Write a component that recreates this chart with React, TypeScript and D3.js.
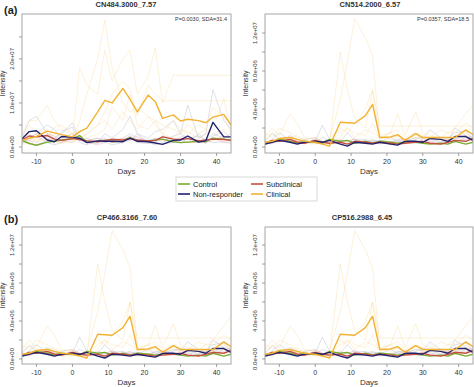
import * as d3 from 'd3';
import React from 'react';

// sampling days (x)
const days = [-14, -12, -10, -7, -5, -3, 0, 2, 4, 7, 9, 11, 14, 16, 18, 21, 23, 25, 28, 30, 32, 35, 37, 39, 42, 44];
const xTicks = [-10, 0, 10, 20, 30, 40];

// values are in millions (1e6)
const a1Clinical = [1.5, 2.0, 2.4, 3.6, 3.2, 2.8, 2.3, 3.5, 4.3, 8.0, 10.6, 10.0, 13.3, 10.8, 8.0, 11.8, 10.3, 6.5, 7.3, 5.9, 6.3, 6.0, 5.5, 6.8, 7.4, 5.0];
const a1NonResponder = [1.8, 3.5, 3.7, 1.6, 1.2, 2.4, 2.2, 2.0, 1.0, 1.4, 1.3, 1.3, 1.2, 2.0, 1.3, 1.2, 0.9, 0.6, 1.5, 1.6, 2.5, 1.1, 1.4, 5.6, 2.3, 2.3];
const a1Control = [1.5, 0.8, 0.4, 1.1, 1.3, 1.6, 1.9, 2.6, 1.1, 1.3, 1.5, 1.2, 1.4, 2.1, 1.5, 1.3, 1.6, 1.8, 1.2, 1.0, 1.1, 1.3, 1.2, 2.0, 1.8, 1.6];
const a1Subclinical = [1.6, 2.5, 2.3, 2.6, 1.8, 1.5, 1.9, 1.7, 1.4, 1.2, 1.5, 1.7, 1.6, 1.9, 1.6, 1.4, 1.5, 2.3, 1.8, 1.7, 1.9, 1.4, 1.6, 1.8, 1.7, 1.5];
const a1ClinicalAnimals = [
  [2.0, 5.0, 3.0, 4.0, 2.0, 1.0, 2.0, 6.0, 12.0, 20.0, 28.8, 18.0, 10.0, 8.0, 9.0, 7.0, 6.0, 5.0, 4.0, 3.0, 5.0, 3.0, 4.0, 3.0, 4.0, 3.0],
  [1.0, 2.0, 1.5, 2.5, 3.0, 2.0, 1.5, 18.0, 14.0, 12.0, 22.0, 15.0, 20.0, 22.0, 12.0, 16.0, 22.5, 10.0, 16.3, 16.3, 16.3, 16.3, 16.3, 16.3, 16.3, 16.3],
  [3.0, 6.0, 6.0, 9.5, 6.0, 4.0, 3.0, 2.0, 3.0, 5.0, 8.0, 12.0, 15.0, 13.0, 7.0, 14.0, 12.0, 10.5, 10.5, 10.5, 10.5, 10.5, 10.5, 10.5, 10.5, 10.5],
  [0.5, 1.0, 2.0, 1.5, 1.0, 0.8, 1.2, 2.0, 3.0, 5.0, 6.0, 4.0, 8.0, 6.0, 4.0, 7.0, 5.0, 3.0, 6.0, 4.0, 3.0, 5.0, 4.0, 9.0, 7.0, 3.0],
  [1.5, 3.0, 1.0, 2.0, 4.5, 5.0, 3.0, 4.0, 2.0, 3.0, 4.0, 9.0, 6.0, 12.0, 5.0, 4.0, 6.0, 3.0, 2.0, 4.0, 3.5, 2.0, 3.0, 4.0, 11.0, 4.0],
];
const a1OtherAnimals = [
  [2.0, 6.0, 7.0, 3.0, 2.0, 3.0, 5.5, 2.0, 1.5, 2.0, 1.0, 1.5, 2.0, 3.0, 2.0, 1.5, 2.0, 1.0, 2.5, 3.0, 9.5, 2.0, 3.0, 13.0, 6.0, 4.0],
  [1.0, 2.0, 3.0, 5.0, 4.0, 2.0, 3.0, 1.5, 2.0, 1.0, 3.0, 2.0, 4.0, 7.0, 3.0, 2.0, 3.5, 4.0, 6.0, 3.0, 2.0, 2.5, 1.5, 3.0, 2.0, 3.0],
  [1.5, 1.0, 0.5, 1.5, 2.0, 3.5, 4.5, 1.0, 0.5, 1.5, 2.0, 1.0, 1.5, 2.5, 1.0, 0.8, 1.2, 2.5, 1.5, 1.0, 2.0, 1.5, 0.8, 2.5, 3.5, 2.0],
  [0.8, 1.5, 2.5, 1.0, 0.5, 1.0, 2.0, 2.5, 1.0, 0.8, 1.2, 0.5, 1.0, 1.5, 3.0, 1.0, 0.5, 0.8, 1.0, 2.0, 1.0, 3.0, 1.5, 1.0, 1.2, 0.8],
];
const a1SubAnimals = [
  [1.0, 2.0, 3.0, 2.0, 1.5, 1.0, 2.5, 1.5, 1.0, 0.5, 1.0, 2.0, 1.5, 2.5, 1.0, 1.5, 1.0, 2.5, 2.0, 1.5, 1.0, 1.0, 1.5, 2.0, 1.0, 1.2],
  [2.0, 1.5, 1.0, 3.0, 2.5, 1.5, 1.0, 2.0, 1.5, 2.0, 1.5, 1.0, 2.0, 1.5, 2.5, 1.0, 2.0, 1.5, 1.0, 2.5, 2.0, 1.5, 1.0, 1.5, 2.5, 2.0],
];

const a2Clinical = [0.5, 0.6, 0.9, 1.0, 0.8, 0.6, 0.5, 0.3, 0.1, 2.6, 2.55, 2.5, 3.3, 4.5, 1.0, 1.05, 1.3, 0.7, 1.4, 1.0, 1.0, 1.0, 1.0, 1.0, 1.8, 1.3];
const a2NonResponder = [0.3, 0.5, 0.7, 0.5, 0.3, 0.5, 0.6, 0.5, 0.7, 0.3, 0.1, 0.5, 0.4, 0.3, 0.5, 0.3, 0.2, 0.6, 0.6, 0.5, 0.9, 0.8, 0.6, 1.1, 1.1, 0.7];
const a2Control = [0.3, 0.6, 0.8, 0.6, 0.4, 0.6, 0.5, 0.4, 0.8, 0.6, 0.7, 0.4, 0.6, 0.4, 0.6, 0.5, 0.4, 0.5, 0.5, 0.4, 0.3, 0.4, 0.3, 0.6, 0.3, 0.5];
const a2Subclinical = [0.4, 0.7, 0.6, 0.8, 0.5, 0.4, 0.7, 0.5, 0.4, 0.5, 0.3, 0.6, 0.5, 0.4, 0.5, 0.4, 0.3, 0.4, 0.5, 0.6, 0.4, 0.3, 0.5, 0.7, 0.6, 0.9];
const a2ClinicalAnimals = [
  [0.8, 1.5, 1.0, 0.9, 0.6, 0.4, 0.3, 0.5, 0.8, 5.0, 9.0, 13.5, 11.5, 9.6, 1.2, 1.5, 1.0, 0.8, 1.2, 1.0, 0.9, 0.8, 0.7, 1.0, 1.5, 1.0],
  [0.5, 0.8, 0.6, 1.0, 0.8, 0.5, 0.4, 0.3, 0.5, 10.0, 6.0, 3.0, 2.0, 6.0, 2.2, 2.2, 2.2, 2.2, 2.2, 2.2, 2.2, 2.2, 2.2, 2.2, 2.2, 2.2],
  [1.0, 2.0, 1.2, 3.5, 2.5, 1.0, 0.8, 0.6, 0.5, 1.5, 2.0, 1.0, 1.8, 1.5, 1.0, 1.5, 3.5, 1.2, 3.7, 1.5, 1.2, 1.0, 1.5, 2.0, 3.5, 4.5],
  [0.3, 0.5, 0.8, 1.0, 1.2, 0.6, 0.5, 0.4, 0.6, 2.0, 1.5, 2.5, 4.0, 6.0, 1.0, 0.8, 1.2, 0.6, 1.0, 0.8, 0.7, 0.9, 0.8, 0.8, 1.2, 1.0],
  [1.5, 1.0, 2.0, 1.5, 1.0, 0.8, 1.0, 0.5, 0.3, 1.0, 2.0, 1.5, 1.2, 2.5, 0.8, 1.5, 1.8, 1.0, 1.5, 1.2, 1.0, 1.8, 1.5, 1.5, 2.5, 2.0],
];
const a2OtherAnimals = [
  [0.6, 1.4, 0.8, 1.0, 0.6, 0.5, 0.6, 2.3, 0.8, 0.5, 0.6, 0.8, 0.5, 0.6, 0.7, 0.5, 0.8, 0.6, 1.0, 0.9, 1.8, 1.0, 0.7, 2.0, 1.2, 1.0],
  [0.3, 0.8, 1.5, 0.7, 0.5, 0.8, 1.0, 0.6, 0.4, 0.6, 1.5, 0.7, 0.8, 0.5, 0.6, 0.4, 0.7, 0.9, 0.6, 0.5, 0.8, 0.6, 0.9, 1.5, 1.7, 0.8],
  [0.5, 0.4, 0.6, 1.2, 0.8, 0.6, 0.4, 1.0, 0.7, 0.4, 0.3, 0.5, 0.6, 0.8, 0.5, 1.0, 0.6, 0.5, 0.8, 1.1, 0.6, 0.5, 0.6, 0.9, 0.8, 1.2],
];
const a2SubAnimals = [
  [0.6, 0.3, 0.9, 0.5, 0.7, 0.3, 0.9, 0.6, 0.3, 0.8, 0.5, 0.9, 0.4, 0.7, 0.3, 0.6, 0.5, 0.8, 0.4, 0.9, 0.5, 0.4, 0.8, 0.5, 1.0, 0.6],
];

const colors: Record<string, string> = {
  Control: '#78ad32',
  'Non-responder': '#22226e',
  Subclinical: '#c4503e',
  Clinical: '#f2b234',
};

const FONT = 'Liberation Sans, Arial, sans-serif';

const sci = (m: number) => {
  const v = m * 1e6;
  if (v === 0) return '0.0e+00';
  const e = Math.floor(Math.log10(v) + 1e-9);
  const mant = v / Math.pow(10, e);
  return `${mant.toFixed(1)}e+${String(e).padStart(2, '0')}`;
};

interface PanelProps {
  x0: number; x1: number; y0: number; y1: number;
  yDomain: [number, number];
  yTicks: number[];
  yLabels: number[];
  title: string;
  titleX: number;
  note?: string;
  means: Record<string, number[]>;
  clinAnimals: number[][];
  otherAnimals: number[][];
  subAnimals: number[][];
}

const Panel = (p: PanelProps) => {
  const x = d3.scaleLinear().domain([-14, 44]).range([p.x0, p.x1]);
  const y = d3.scaleLinear().domain(p.yDomain).range([p.y1, p.y0]);
  const line = d3.line<number>().x((_, i) => x(days[i])).y((d) => y(d));
  const clipId = `clip-${p.x0}-${p.y0}`;
  return (
    <g fontFamily={FONT}>
      <defs>
        <clipPath id={clipId}>
          <rect x={p.x0} y={p.y0} width={p.x1 - p.x0} height={p.y1 - p.y0} />
        </clipPath>
      </defs>
      <text x={p.titleX} y={p.y0 - 7} textAnchor="middle" fontSize={7.5} fontWeight="bold" fill="#333">{p.title}</text>
      <g clipPath={`url(#${clipId})`} fill="none">
        {p.otherAnimals.map((s, i) => (
          <path key={'o' + i} d={line(s) || ''} stroke="#aeb4c8" strokeOpacity={0.4} strokeWidth={1} />
        ))}
        {p.subAnimals.map((s, i) => (
          <path key={'s' + i} d={line(s) || ''} stroke="#ec9aa0" strokeOpacity={0.35} strokeWidth={1} />
        ))}
        {p.clinAnimals.map((s, i) => (
          <path key={'c' + i} d={line(s) || ''} stroke="#f8d48a" strokeOpacity={0.32} strokeWidth={1} />
        ))}
        {['Control', 'Subclinical', 'Non-responder', 'Clinical'].map((g) => (
          <path key={g} d={line(p.means[g]) || ''} stroke={colors[g]} strokeWidth={1.4} strokeLinejoin="round" />
        ))}
      </g>
      <rect x={p.x0} y={p.y0} width={p.x1 - p.x0} height={p.y1 - p.y0} fill="none" stroke="#a6a6a6" strokeWidth={1} />
      {p.yTicks.map((t) => (
        <line key={t} x1={p.x0} x2={p.x0 - 3} y1={y(t)} y2={y(t)} stroke="#888" strokeWidth={0.8} />
      ))}
      {p.yLabels.map((t) => (
        <text key={t} transform={`translate(${p.x0 - 8},${y(t)}) rotate(-90)`} textAnchor="middle" fontSize={6} fill="#333">{sci(t)}</text>
      ))}
      <text transform={`translate(${p.x0 - 17},${(p.y0 + p.y1) / 2}) rotate(-90)`} textAnchor="middle" fontSize={7} fill="#333">Intensity</text>
      {xTicks.map((t) => (
        <g key={t}>
          <line x1={x(t)} x2={x(t)} y1={p.y1} y2={p.y1 + 3} stroke="#888" strokeWidth={0.8} />
          <text x={x(t)} y={p.y1 + 11} textAnchor="middle" fontSize={7} fill="#333">{t}</text>
        </g>
      ))}
      <text x={(p.x0 + p.x1) / 2} y={p.y1 + 21} textAnchor="middle" fontSize={8} fill="#333">Days</text>
      {p.note && (
        <text x={p.x1 - 4} y={p.y0 + 7} textAnchor="end" fontSize={5.5} fill="#333">{p.note}</text>
      )}
    </g>
  );
};

const a1Means = { Control: a1Control, 'Non-responder': a1NonResponder, Subclinical: a1Subclinical, Clinical: a1Clinical };
const a2Means = { Control: a2Control, 'Non-responder': a2NonResponder, Subclinical: a2Subclinical, Clinical: a2Clinical };

export default function App() {
  const legendRows = [
    { g: 'Control', x: 178, y: 184 },
    { g: 'Non-responder', x: 178, y: 194 },
    { g: 'Subclinical', x: 251, y: 184 },
    { g: 'Clinical', x: 251, y: 194 },
  ];
  return (
    <svg width={474} height={387} style={{ position: 'absolute', left: 0, top: 0, background: '#fff' }}>
      <rect width={474} height={387} fill="#fff" />
      <text x={4} y={14} fontFamily={FONT} fontSize={11} fontWeight="bold" fill="#222">(a)</text>
      <text x={4} y={223} fontFamily={FONT} fontSize={11} fontWeight="bold" fill="#222">(b)</text>
      <Panel x0={22} x1={231} y0={14} y1={153} yDomain={[-1.36, 30.2]} yTicks={[0, 5, 10, 15, 20, 25]} yLabels={[0, 10, 20]}
        title="CN484.3000_7.57" titleX={126} note="P=0.0030, SDA=31.4" means={a1Means}
        clinAnimals={a1ClinicalAnimals} otherAnimals={a1OtherAnimals} subAnimals={a1SubAnimals} />
      <Panel x0={265} x1={473} y0={14} y1={153} yDomain={[-0.63, 14.0]} yTicks={[0, 2, 4, 6, 8, 10, 12]} yLabels={[0, 4, 8, 12]}
        title="CN514.2000_6.57" titleX={370} note="P=0.0357, SDA=18.5" means={a2Means}
        clinAnimals={a2ClinicalAnimals} otherAnimals={a2OtherAnimals} subAnimals={a2SubAnimals} />
      <Panel x0={22} x1={231} y0={227} y1={364} yDomain={[-0.53, 13.9]} yTicks={[0, 2, 4, 6, 8, 10, 12]} yLabels={[0, 4, 8, 12]}
        title="CP466.3166_7.60" titleX={127} means={a2Means}
        clinAnimals={a2ClinicalAnimals} otherAnimals={a2OtherAnimals} subAnimals={a2SubAnimals} />
      <Panel x0={265} x1={473} y0={227} y1={364} yDomain={[-0.53, 13.9]} yTicks={[0, 2, 4, 6, 8, 10, 12]} yLabels={[0, 4, 8, 12]}
        title="CP516.2988_6.45" titleX={362} means={a2Means}
        clinAnimals={a2ClinicalAnimals} otherAnimals={a2OtherAnimals} subAnimals={a2SubAnimals} />
      <g fontFamily={FONT}>
        <rect x={176} y={177} width={141} height={24} fill="#fff" stroke="#cfcfcf" strokeWidth={0.8} />
        {legendRows.map((r) => (
          <g key={r.g}>
            <line x1={r.x} x2={r.x + 12} y1={r.y} y2={r.y} stroke={colors[r.g]} strokeWidth={1.6} />
            <text x={r.x + 15} y={r.y + 2.5} fontSize={7.5} fill="#222">{r.g}</text>
          </g>
        ))}
      </g>
    </svg>
  );
}
